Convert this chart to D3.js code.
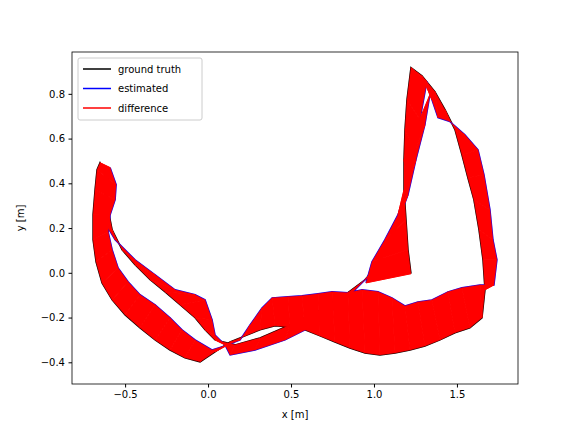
<!DOCTYPE html>
<html><head><meta charset="utf-8">
<script src="https://cdn.jsdelivr.net/npm/d3@7"></script>
<style>body{margin:0;background:#fff}text{font-family:"DejaVu Sans",sans-serif}</style>
</head><body><div id="chart"></div>
<script>
// ground truth and estimated positions, matched in time
var gtX = [1.223,1.205,1.193,1.181,1.181,1.187,1.199,1.223,1.289,1.367,1.428,1.488,1.530,1.566,1.602,1.633,1.657,1.669,1.651,1.578,1.488,1.398,1.307,1.217,1.127,1.036,0.946,0.855,0.765,0.675,0.584,0.494,0.404,0.313,0.223,0.133,0.042,-0.048,-0.139,-0.229,-0.319,-0.410,-0.500,-0.578,-0.639,-0.675,-0.693,-0.693,-0.681,-0.669,-0.651,-0.627,-0.614,-0.602,-0.578,-0.518,-0.440,-0.349,-0.259,-0.169,-0.078,-0.018,0.042,0.163,0.313,0.494,0.675,0.825,0.946,1.036,1.108,1.157,1.187,1.193,1.199];
var gtY = [-0.004,0.103,0.237,0.371,0.506,0.640,0.774,0.917,0.881,0.810,0.729,0.640,0.528,0.425,0.327,0.192,0.058,-0.076,-0.201,-0.246,-0.268,-0.300,-0.327,-0.345,-0.358,-0.367,-0.358,-0.336,-0.309,-0.282,-0.255,-0.242,-0.237,-0.255,-0.282,-0.309,-0.353,-0.398,-0.380,-0.345,-0.300,-0.246,-0.188,-0.121,-0.045,0.049,0.148,0.260,0.371,0.461,0.492,0.461,0.371,0.282,0.192,0.103,0.036,-0.031,-0.085,-0.143,-0.201,-0.255,-0.300,-0.322,-0.291,-0.233,-0.166,-0.098,-0.031,0.049,0.148,0.260,0.349,0.438,0.550];
var estX = [0.952,0.988,1.066,1.145,1.205,1.247,1.277,1.319,1.349,1.386,1.458,1.548,1.627,1.663,1.699,1.717,1.741,1.723,1.639,1.530,1.446,1.349,1.265,1.187,1.108,1.024,0.928,0.843,0.747,0.663,0.566,0.482,0.386,0.325,0.253,0.193,0.120,0.024,-0.078,-0.157,-0.229,-0.319,-0.410,-0.482,-0.542,-0.578,-0.602,-0.590,-0.560,-0.554,-0.590,-0.602,-0.627,-0.651,-0.560,-0.440,-0.319,-0.199,-0.078,-0.018,0.024,0.042,0.102,0.133,0.283,0.464,0.645,0.825,0.976,1.066,1.145,1.205,1.253,1.307,1.337];
var estY = [-0.045,0.049,0.148,0.260,0.394,0.550,0.685,0.855,0.774,0.694,0.676,0.617,0.550,0.438,0.282,0.148,0.058,-0.054,-0.054,-0.067,-0.085,-0.121,-0.130,-0.148,-0.112,-0.085,-0.076,-0.089,-0.085,-0.094,-0.103,-0.107,-0.112,-0.157,-0.233,-0.300,-0.322,-0.345,-0.300,-0.255,-0.201,-0.143,-0.098,-0.040,0.022,0.103,0.183,0.260,0.327,0.394,0.470,0.416,0.327,0.260,0.148,0.058,-0.009,-0.076,-0.098,-0.121,-0.210,-0.278,-0.322,-0.367,-0.345,-0.300,-0.233,-0.121,-0.009,0.103,0.228,0.349,0.506,0.662,0.796];
var xTicks = [-0.5, 0.0, 0.5, 1.0, 1.5];
var yTicks = [-0.4, -0.2, 0.0, 0.2, 0.4, 0.6, 0.8];
var legendItems = [["ground truth", "black"], ["estimated", "blue"], ["difference", "red"]];

var W = 576, H = 432, L = 72, R = 518, T = 52, B = 384;
var svg = d3.select("#chart").append("svg").attr("width", W).attr("height", H);
var x = d3.scaleLinear().domain([-0.82, 1.868]).range([L, R]);
var y = d3.scaleLinear().domain([-0.497, 0.987]).range([B, T]);

var gt = gtX.map(function(v, i) { return [v, gtY[i]]; });
var est = estX.map(function(v, i) { return [v, estY[i]]; });
var line = d3.line().x(function(d) { return x(d[0]); }).y(function(d) { return y(d[1]); });

svg.append("path").datum(gt).attr("d", line).attr("fill", "none").attr("stroke", "black").attr("stroke-width", 1.5);
svg.append("path").datum(est).attr("d", line).attr("fill", "none").attr("stroke", "blue").attr("stroke-width", 1.5);

// band swept by the difference lines between consecutive samples
var quads = gt.slice(1).map(function(d, i) { return [gt[i], d, est[i + 1], est[i]]; });
svg.append("g").selectAll("path").data(quads).enter().append("path")
    .attr("d", function(q) { return line(q) + "Z"; })
    .attr("fill", "red").attr("stroke", "red").attr("stroke-width", 0.4);
svg.append("g").selectAll("line").data(gt).enter().append("line")
    .attr("x1", function(d) { return x(d[0]); }).attr("y1", function(d) { return y(d[1]); })
    .attr("x2", function(d, i) { return x(est[i][0]); }).attr("y2", function(d, i) { return y(est[i][1]); })
    .attr("stroke", "red").attr("stroke-width", 1);

var ax = svg.append("g").attr("transform", "translate(0," + B + ")")
    .call(d3.axisBottom(x).tickValues(xTicks).tickSize(3.5).tickPadding(3.5).tickFormat(d3.format(".1f")));
var ay = svg.append("g").attr("transform", "translate(" + L + ",0)")
    .call(d3.axisLeft(y).tickValues(yTicks).tickSize(3.5).tickPadding(3.5).tickFormat(d3.format(".1f")));
[ax, ay].forEach(function(a) {
    a.select(".domain").remove();
    a.selectAll("text").attr("font-size", 10).attr("fill", "black").text(function(d) { return d3.format(".1f")(d).replace("-", "\u2212"); });
});
svg.append("rect").attr("x", L).attr("y", T).attr("width", R - L).attr("height", B - T)
    .attr("fill", "none").attr("stroke", "black").attr("stroke-width", 0.8);
svg.append("text").attr("x", (L + R) / 2).attr("y", 418).attr("text-anchor", "middle").attr("font-size", 10).text("x [m]");
svg.append("text").attr("transform", "translate(24," + (T + B) / 2 + ") rotate(-90)").attr("text-anchor", "middle").attr("font-size", 10).text("y [m]");

var lg = svg.append("g").attr("transform", "translate(78,58)");
lg.append("rect").attr("width", 124).attr("height", 62).attr("rx", 2).attr("fill", "white").attr("fill-opacity", 0.8).attr("stroke", "#ccc");
legendItems.forEach(function(d, i) {
    var yy = 11 + i * 19.5;
    lg.append("line").attr("x1", 5).attr("x2", 33).attr("y1", yy).attr("y2", yy).attr("stroke", d[1]).attr("stroke-width", 1.5);
    lg.append("text").attr("x", 40).attr("y", yy + 3.5).attr("font-size", 10).text(d[0]);
});
</script></body></html>
